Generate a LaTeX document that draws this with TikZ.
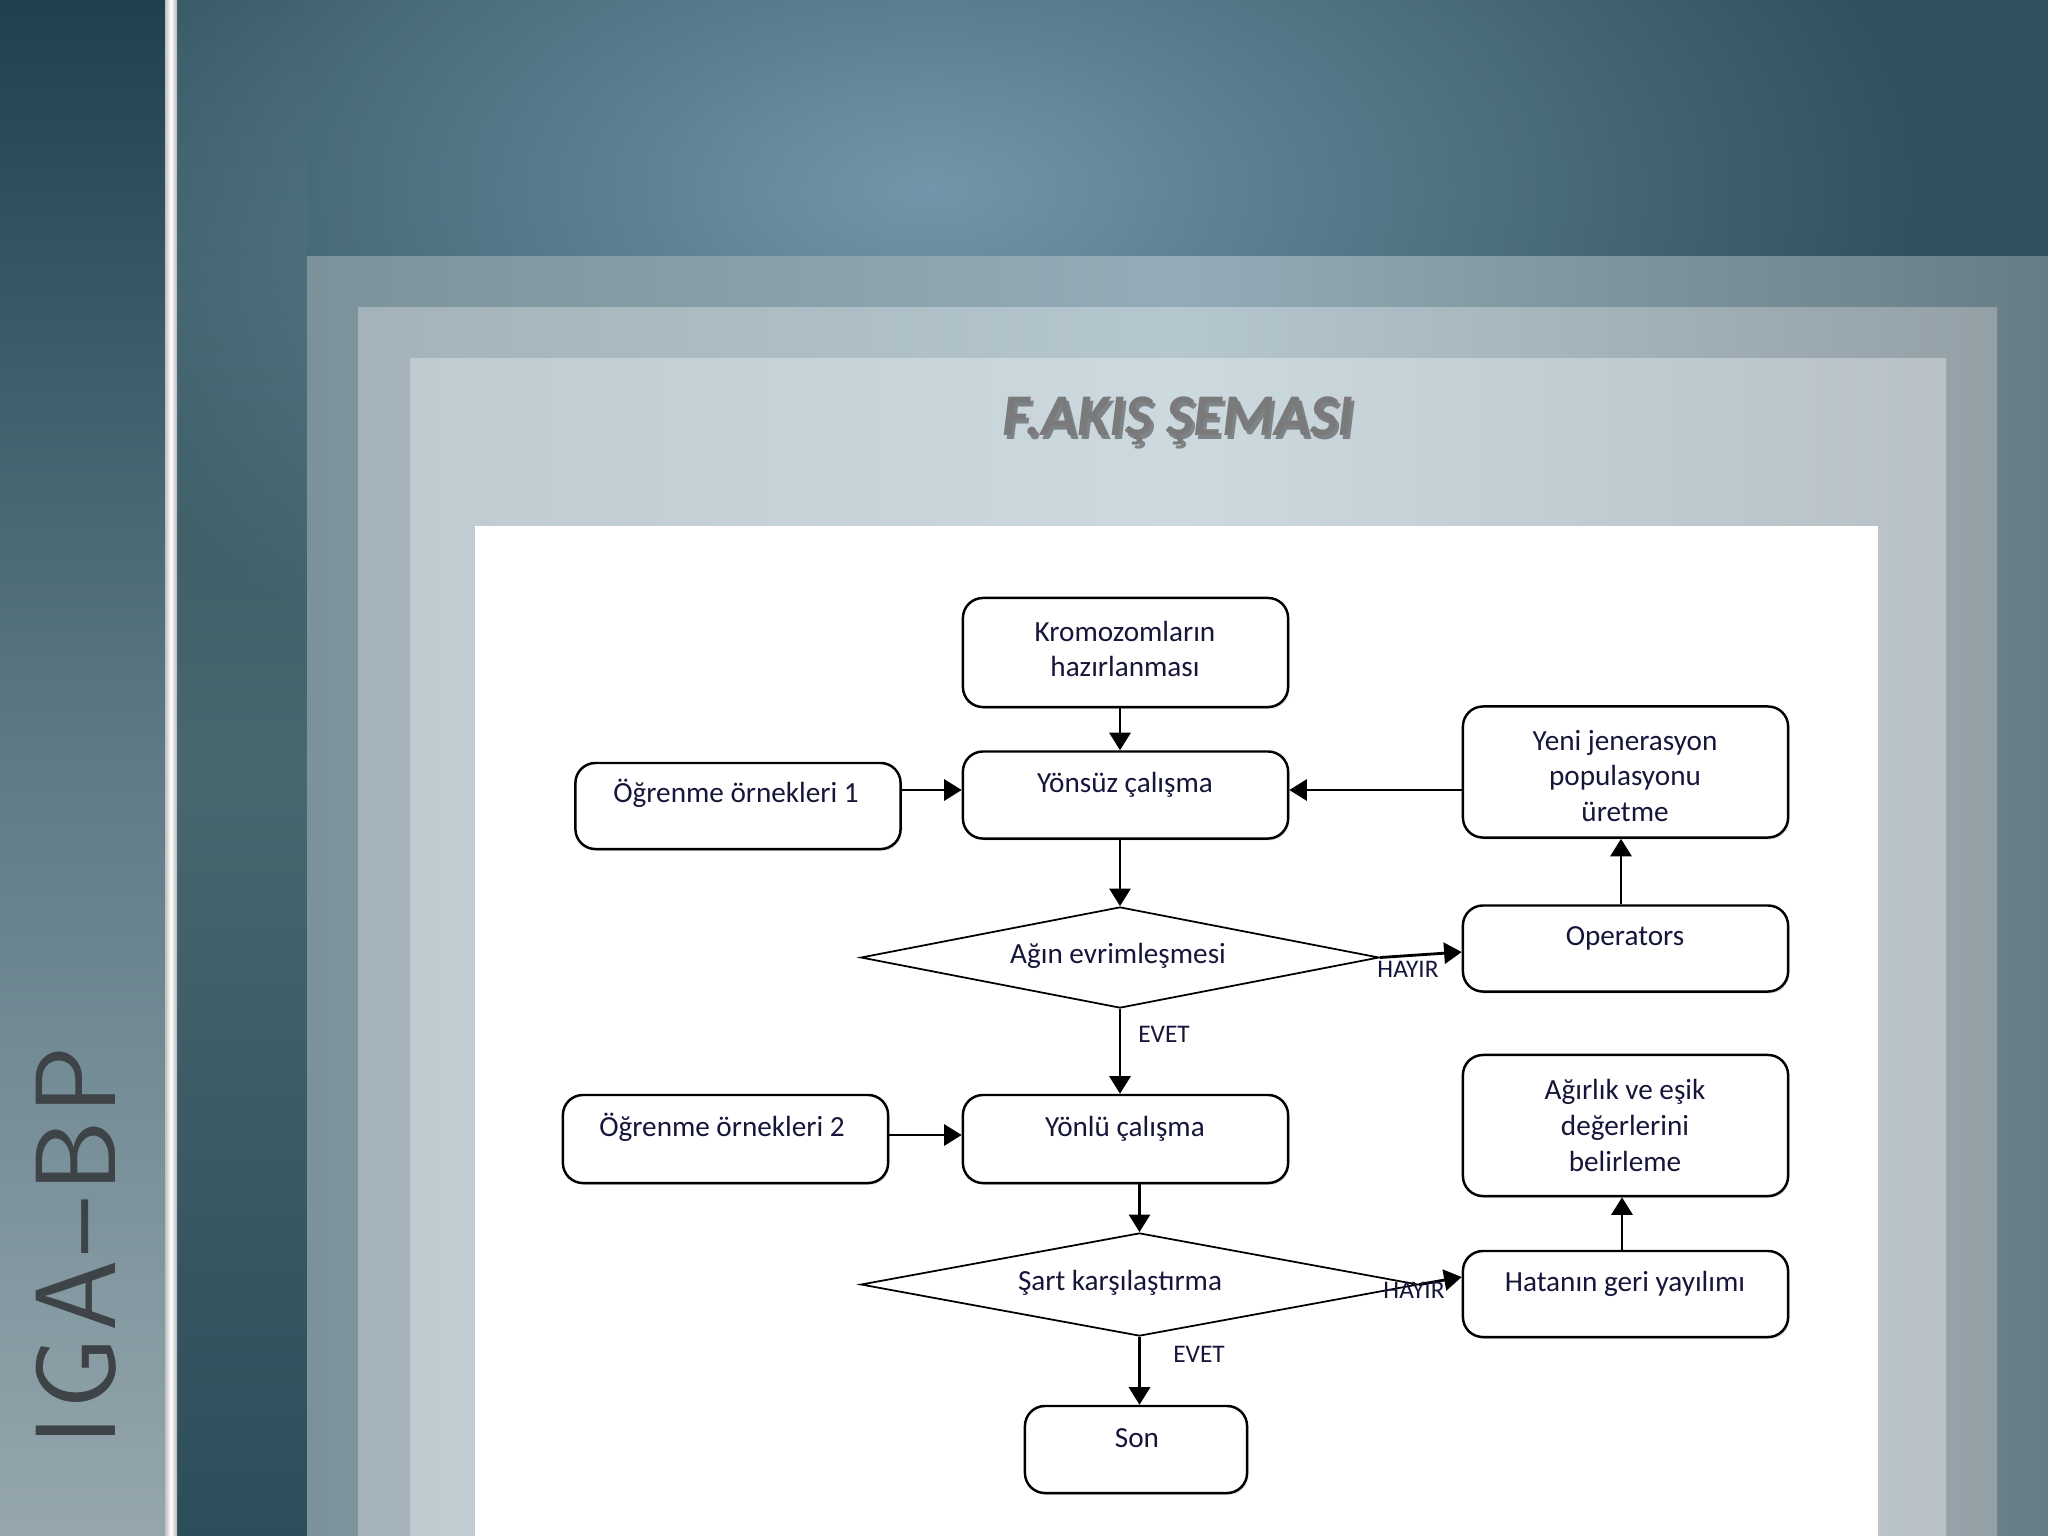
\documentclass[tikz,border=0pt]{standalone}
\usepackage{fontspec}
\setmainfont{Carlito}
\usetikzlibrary{arrows.meta,shapes.geometric,calc,fadings,shadows}

\definecolor{bgdark}{HTML}{2F505C}
\definecolor{hl}{HTML}{7397AA}
\definecolor{lpA}{HTML}{21404E}
\definecolor{lpB}{HTML}{5E7B87}
\definecolor{lpC}{HTML}{95A6AD}
\definecolor{stA}{HTML}{2E4E5A}
\definecolor{stB}{HTML}{47686F}
\definecolor{stC}{HTML}{2C4D5A}
\definecolor{fAl}{HTML}{7C929B}
\definecolor{fAm}{HTML}{94ACB7}
\definecolor{fAr}{HTML}{677D86}
\definecolor{fBl}{HTML}{A3B3B9}
\definecolor{fBm}{HTML}{B4C6CE}
\definecolor{fBr}{HTML}{93A1A7}
\definecolor{fCl}{HTML}{BFCBD0}
\definecolor{fCm}{HTML}{CCD9DF}
\definecolor{fCr}{HTML}{B7C1C6}
\definecolor{navy}{HTML}{16163A}
\definecolor{titlegray}{HTML}{7A7A7A}
\definecolor{igacol}{HTML}{3E4348}

\tikzfading[name=myglow, inner color=transparent!0, outer color=transparent!100]

\newcommand{\gapk}{\kern0.065cm}

\tikzset{
  box/.style={draw=black, line width=0.7pt, rounded corners=0.2cm, rectangle,
    minimum width=3.25cm, inner sep=0pt, fill=white,
    drop shadow={shadow xshift=0.4pt, shadow yshift=-0.5pt, opacity=0.3}},
  dia/.style={diamond, draw=black, line width=0.5pt, inner sep=0pt, fill=white},
  arr/.style={-{Triangle[length=5pt,width=6pt]}, line width=0.8pt, draw=black},
  txt/.style={font=\fontsize{8.3}{10.2}\selectfont, text=navy, align=center, inner sep=0pt},
  lab/.style={font=\fontsize{7.2}{8}\selectfont, text=navy, inner sep=0pt, anchor=base},
  ttl/.style={font=\fontsize{16.8}{20}\selectfont\bfseries\itshape, inner sep=0pt, anchor=base}
}

\begin{document}
\begin{tikzpicture}[x=0.01cm, y=-0.01cm]
\useasboundingbox (0,0) rectangle (2048,1536);

% background
\fill[bgdark] (177,0) rectangle (2048,1536);
\fill[top color=stA, bottom color=stC, middle color=stB] (177,0) rectangle (307,1536);
\fill[hl, path fading=myglow] (930,190) ellipse [x radius=10cm, y radius=5.4cm];

% left panel and white bar
\fill[top color=lpA, bottom color=lpC, middle color=lpB] (0,0) rectangle (165,1536);
\fill[left color=black!25, right color=black!30, middle color=white] (165,0) rectangle (177,1536);

% frames
\fill[left color=fAl, right color=fAr, middle color=fAm] (307,256) rectangle (2048,1536);
\fill[left color=fBl, right color=fBr, middle color=fBm] (358,307) rectangle (1997,1536);
\fill[left color=fCl, right color=fCr, middle color=fCm] (410,358) rectangle (1946,1536);
\fill[white] (475,526) rectangle (1878,1536);

% side title
\node[rotate=90, anchor=base west, inner sep=0pt, font=\fontsize{32.5}{33}\selectfont\sffamily, text=igacol] (iga) at (115,1446) {I\gapk G\gapk A\gapk –\gapk B\gapk P};

% title
\node[ttl, text=black!75, opacity=0.55] (titlesh) at (1181,439) {F.AKIŞ ŞEMASI};
\node[ttl, text=titlegray] (title) at (1178,435) {F.AKIŞ ŞEMASI};

% boxes
\node[box, minimum height=1.09cm] (krom) at (1125.5,652.5) {};
\node[box, minimum height=0.87cm] (yonsuz) at (1125.5,795) {};
\node[box, minimum height=0.86cm] (ogr1) at (738,806) {};
\node[box, minimum height=1.31cm] (yeni) at (1625.5,772) {};
\node[box, minimum height=0.86cm] (oper) at (1625.5,948.5) {};
\node[dia, minimum width=5.18cm, minimum height=1.01cm] (d1) at (1120,957.5) {};
\node[box, minimum height=0.88cm] (yonlu) at (1125.5,1139) {};
\node[box, minimum height=0.88cm] (ogr2) at (725.5,1139) {};
\node[box, minimum height=1.41cm] (agir) at (1625.5,1125.5) {};
\node[box, minimum height=0.86cm] (hata) at (1625.5,1294) {};
\node[dia, minimum width=5.57cm, minimum height=1.03cm] (d2) at (1139.5,1284.5) {};
\node[box, minimum width=2.22cm, minimum height=0.87cm] (son) at (1136,1449.5) {};

% texts
\node[txt] (tkrom) at (1125,649) {Kromozomların\\hazırlanması};
\node[txt, anchor=base] (tyonsuz) at (1125,792) {Yönsüz çalışma};
\node[txt, anchor=base] (togr1) at (736,802) {Öğrenme örnekleri 1};
\node[txt] (tyeni) at (1625,776) {Yeni jenerasyon\\populasyonu\\üretme};
\node[txt, anchor=base] (toper) at (1625,945) {Operators};
\node[txt, anchor=base] (td1) at (1118,963) {Ağın evrimleşmesi};
\node[txt, anchor=base] (tyonlu) at (1125,1136) {Yönlü çalışma};
\node[txt, anchor=base] (togr2) at (722,1136) {Öğrenme örnekleri 2};
\node[txt] (tagir) at (1625,1125.5) {Ağırlık ve eşik\\değerlerini\\belirleme};
\node[txt, anchor=base] (thata) at (1625,1291) {Hatanın geri yayılımı};
\node[txt, anchor=base] (td2) at (1120,1290) {Şart karşılaştırma};
\node[txt, anchor=base] (tson) at (1137,1447) {Son};

% connectors
\draw[arr] (krom.south -| d1.north) -- (yonsuz.north -| d1.north);
\draw[arr] (ogr1.east |- 0,790) -- (yonsuz.west |- 0,790);
\draw[arr] (yeni.west |- 0,790) -- (yonsuz.east |- 0,790);
\draw[arr] (yonsuz.south -| d1.north) -- (d1.north);
\draw[arr] (d1.east) -- (oper.west |- 0,952);
\draw[arr] (oper.north -| 1621,0) -- (yeni.south -| 1621,0);
\draw[arr] (d1.south) -- (yonlu.north -| d1.south);
\draw[arr] (ogr2.east |- 0,1135) -- (yonlu.west |- 0,1135);
\draw[arr] (yonlu.south -| d2.north) -- (d2.north);
\draw[arr] (d2.east) -- (hata.west |- 0,1277);
\draw[arr] (hata.north -| 1622,0) -- (agir.south -| 1622,0);
\draw[arr] (d2.south) -- (son.north -| d2.south);

% labels
\node[lab] (hayir1) at (1408,977) {HAYIR};
\node[lab] (evet1) at (1164,1042) {EVET};
\node[lab] (hayir2) at (1414,1298) {HAYIR};
\node[lab] (evet2) at (1199,1362) {EVET};
\end{tikzpicture}
\end{document}
